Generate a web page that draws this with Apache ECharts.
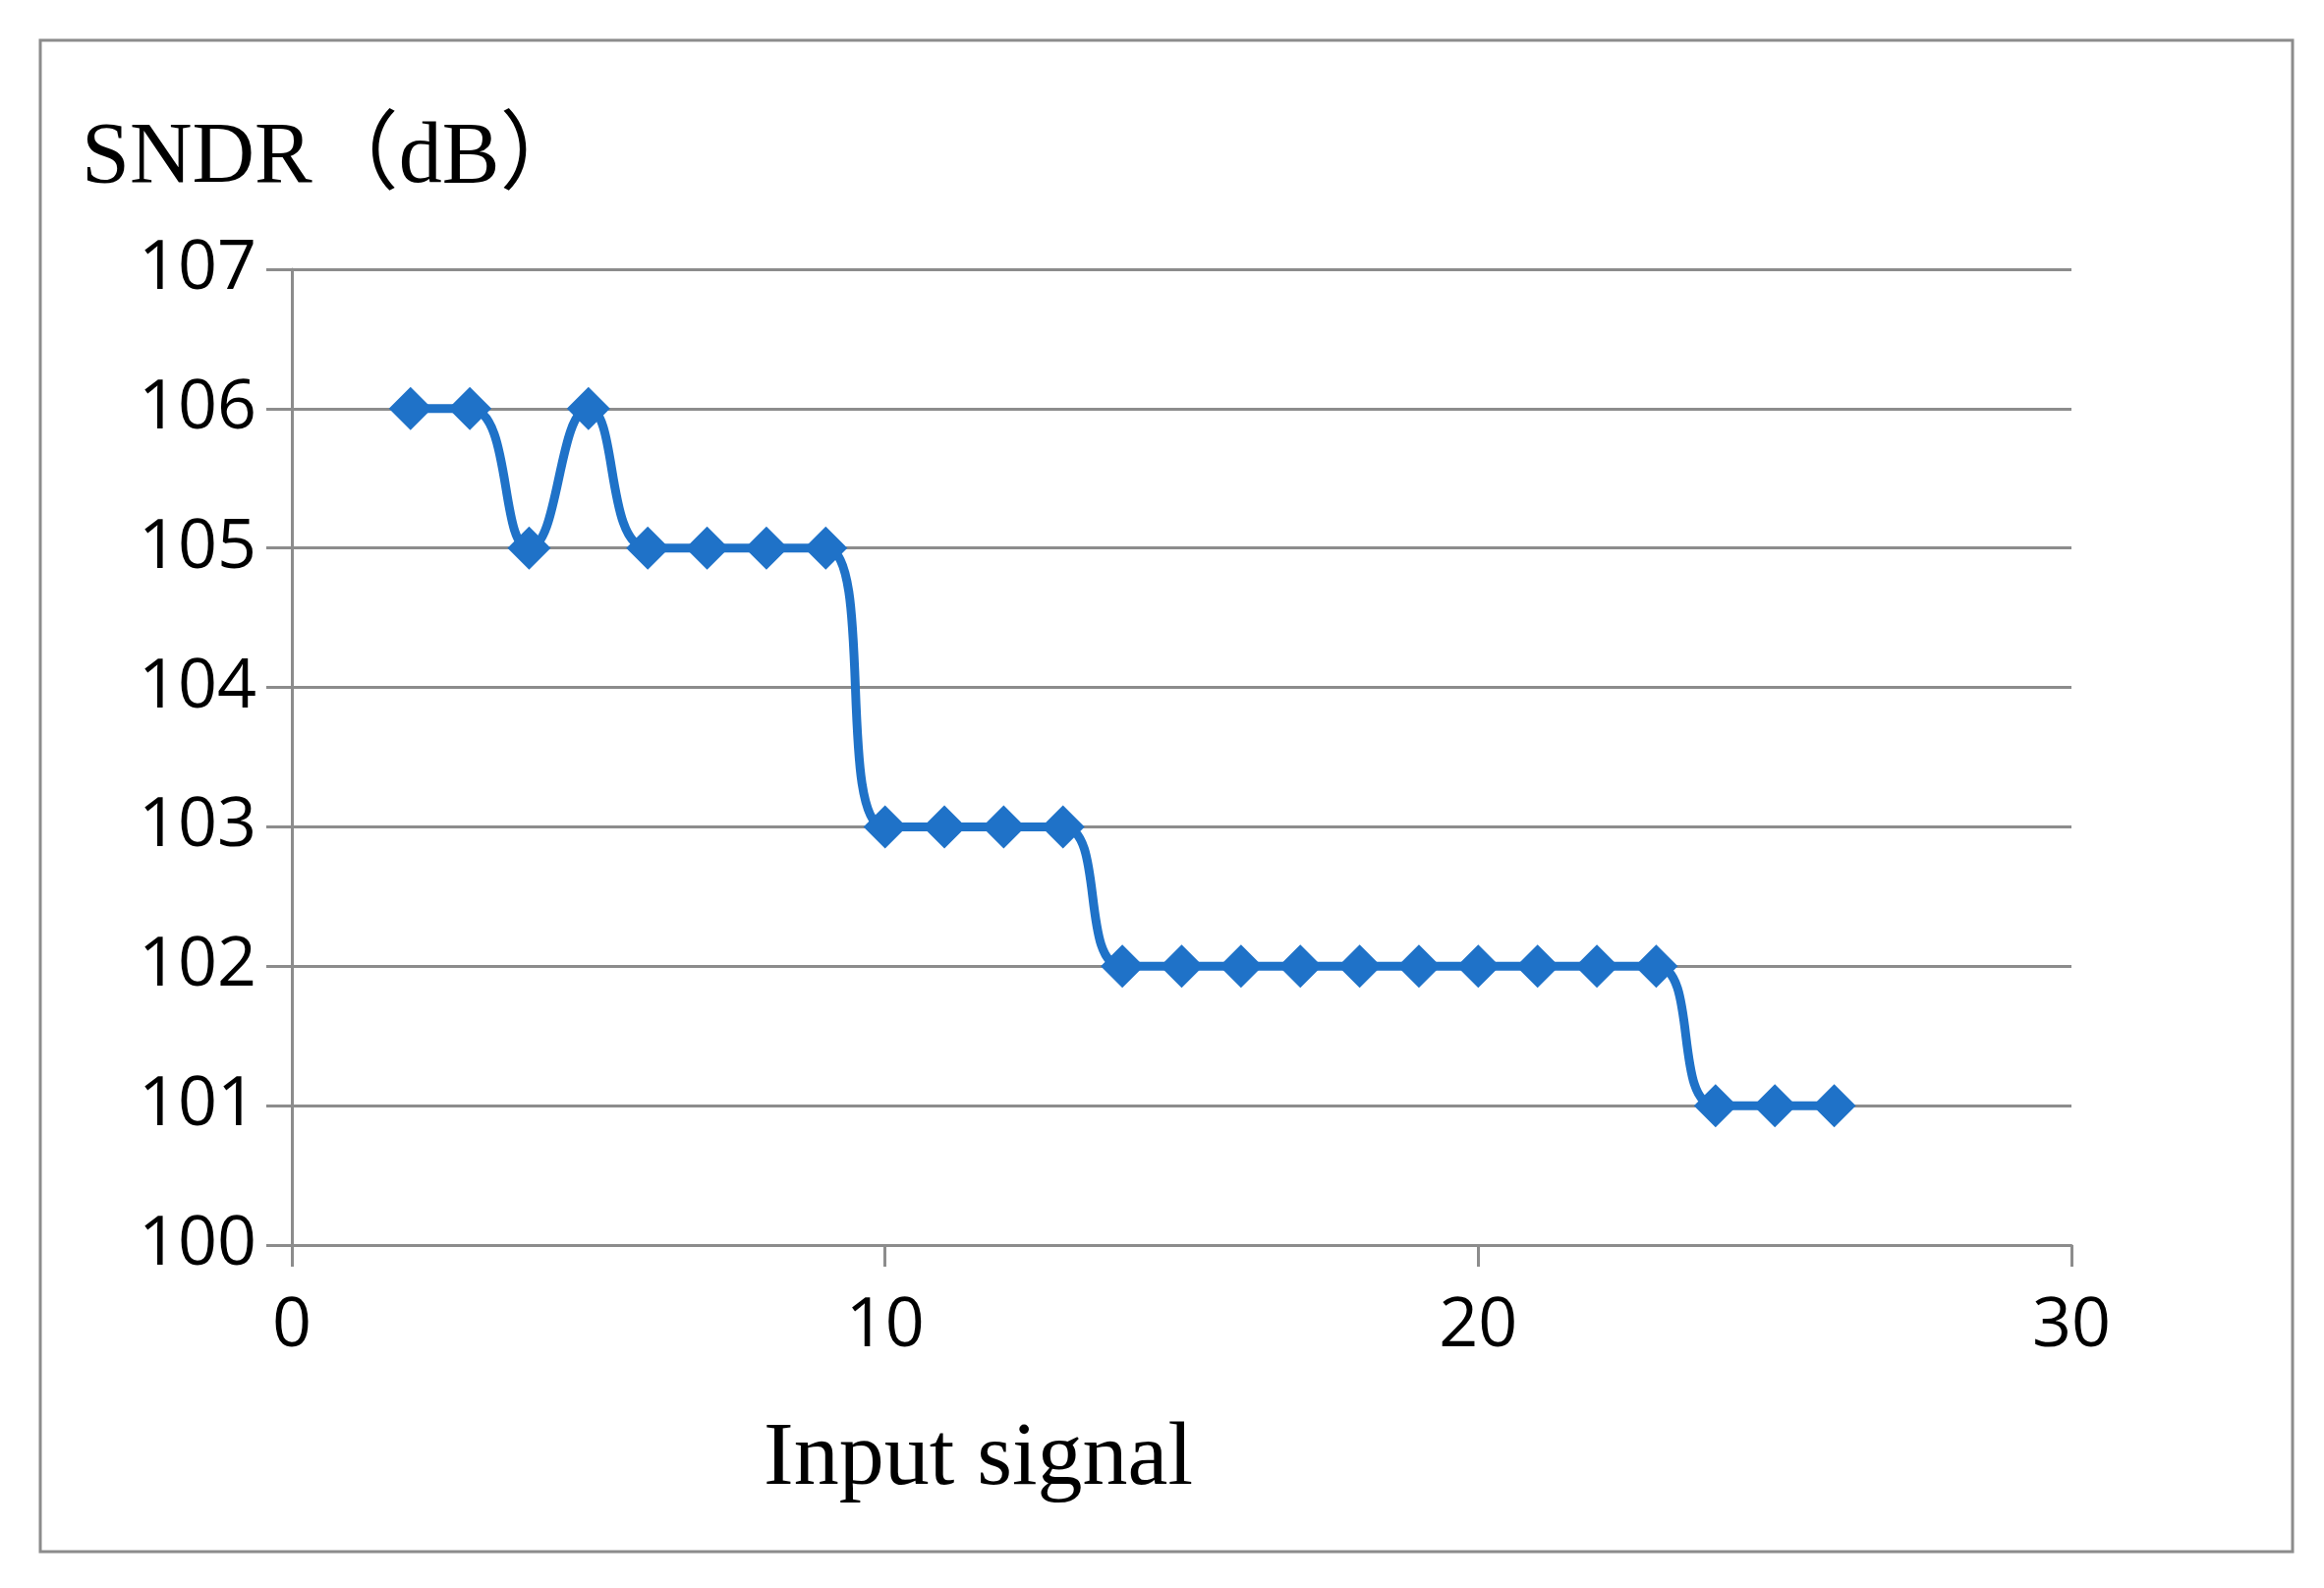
<!DOCTYPE html>
<html>
<head>
<meta charset="utf-8">
<script src="https://cdn.jsdelivr.net/npm/echarts@6/dist/echarts.min.js"></script>
<style>html,body{margin:0;padding:0;background:#fff}#main{width:2365px;height:1616px}</style>
</head>
<body>
<div id="main"></div>
<script>
const inputSignal = [2,3,4,5,6,7,8,9,10,11,12,13,14,15,16,17,18,19,20,21,22,23,24,25,26];
const sndr = [106,106,105,106,105,105,105,105,103,103,103,103,102,102,102,102,102,102,102,102,102,102,101,101,101];
const yTitle = 'SNDR（dB）';
const xTitle = 'Input signal';

const chart = echarts.init(document.getElementById('main'));
const grey = '#8c8c8c';
chart.setOption({
  animation: false,
  grid: { left: 297, right: 257, top: 274, bottom: 349 },
  xAxis: {
    type: 'value', min: 0, max: 30, interval: 10,
    axisLine: { lineStyle: { color: grey, width: 3 } },
    axisTick: { show: true, length: 22, lineStyle: { color: grey, width: 3 } },
    axisLabel: { fontFamily: 'Open Sans', fontSize: 70, color: '#000', margin: 48 },
    splitLine: { show: false }
  },
  yAxis: {
    type: 'value', min: 100, max: 107, interval: 1,
    axisLine: { show: true, lineStyle: { color: grey, width: 3 } },
    axisTick: { show: true, length: 26, lineStyle: { color: grey, width: 3 } },
    axisLabel: { fontFamily: 'Open Sans', fontSize: 70, color: '#000', margin: 36 },
    splitLine: { lineStyle: { color: grey, width: 3 } }
  },
  series: [{
    type: 'line',
    data: inputSignal.map((x, i) => [x, sndr[i]]),
    smooth: 0.5,
    symbol: 'diamond',
    symbolSize: 44,
    lineStyle: { color: '#1f72c8', width: 9 },
    itemStyle: { color: '#1f72c8' }
  }],
  graphic: [
    { type: 'rect', shape: { x: 41, y: 41, width: 2292, height: 1538 }, style: { fill: 'none', stroke: grey, lineWidth: 3 } },
    { type: 'text', left: 83, top: 118, style: { text: yTitle, font: '88px "Liberation Serif", "Noto Sans CJK SC", serif', fill: '#000' } },
    { type: 'text', left: 777, top: 1440, style: { text: xTitle, font: '92px "Liberation Serif", serif', fill: '#000' } }
  ]
});
</script>
</body>
</html>
